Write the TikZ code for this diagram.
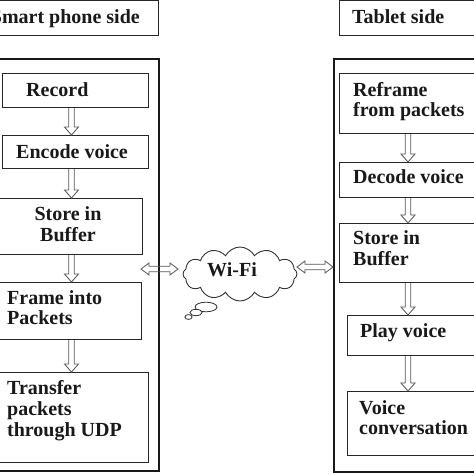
\documentclass[tikz,border=0pt]{standalone}
\usepackage{fontspec}
\setmainfont{Liberation Serif}
\usetikzlibrary{shapes.symbols,calc}
\tikzset{
  box/.style={draw=black!85, line width=1.1pt, fill=white, inner sep=0pt, anchor=north west},
  frame/.style={draw=black!90, line width=1.6pt, inner sep=0pt, anchor=north west},
  txt/.style={font=\bfseries\fontsize{20}{21}\selectfont, inner sep=0pt, anchor=base west, text=black!90},
  darr/.style={draw=black!65, line width=0.85pt, fill=white,
    to path={let \p1=(\tikztostart), \p2=(\tikztotarget) in
      (\x1-2.7pt,\y1) -- (\x1-2.7pt,\y2+8pt) -- (\x1-7pt,\y2+8pt) -- (\x1,\y2)
      -- (\x1+7pt,\y2+8pt) -- (\x1+2.7pt,\y2+8pt) -- (\x1+2.7pt,\y1)}},
  harr/.style={draw=black!65, line width=0.85pt,
    to path={let \p1=(\tikztostart), \p2=(\tikztotarget) in
      (\x1,\y1) -- (\x1+8pt,\y1+6pt) -- (\x1+8pt,\y1+2.7pt) -- (\x2-8pt,\y1+2.7pt)
      -- (\x2-8pt,\y1+6pt) -- (\x2,\y1) -- (\x2-8pt,\y1-6pt) -- (\x2-8pt,\y1-2.7pt)
      -- (\x1+8pt,\y1-2.7pt) -- (\x1+8pt,\y1-6pt) -- cycle}},
  bubble/.style={draw=black!80, line width=0.8pt, fill=white}
}
\begin{document}
\begin{tikzpicture}[x=1pt,y=-1pt]
\useasboundingbox (0,0) rectangle (474,474);
\clip (0,0) rectangle (474,474);
\fill[white] (0,0) rectangle (474,474);

% headers
\node[box, line width=1.4pt, minimum width=168pt, minimum height=35pt] (lhead) at (-10,0) {};
\node[txt, anchor=base east] (lheadt) at (140,23) {Smart phone side};
\node[box, line width=1.4pt, minimum width=150pt, minimum height=35pt] (rhead) at (339,0) {};
\node[txt] (rheadt) at (352,23) {Tablet side};

% containers
\node[frame, minimum width=168pt, minimum height=412pt] (lframe) at (-10,58) {};
\node[frame, minimum width=160pt, minimum height=413pt] (rframe) at (333,58) {};

% left boxes
\node[box, minimum width=146pt, minimum height=34pt] (rec) at (2,73) {};
\node[txt] (rect) at (26,96) {Record};
\node[box, minimum width=146pt, minimum height=33pt] (enc) at (2,135) {};
\node[txt] (enct) at (16,158) {Encode voice};
\node[box, minimum width=152pt, minimum height=56pt] (sto) at (-10,198) {};
\node[txt, anchor=base] (stot1) at (68,220) {Store in};
\node[txt, anchor=base] (stot2) at (68,241) {Buffer};
\node[box, minimum width=151pt, minimum height=57pt] (frm) at (-10,282) {};
\node[txt] (frmt1) at (7,304) {Frame into};
\node[txt] (frmt2) at (7,324) {Packets};
\node[box, minimum width=158pt, minimum height=90pt] (tra) at (-10,372) {};
\node[txt] (trat1) at (7,394) {Transfer};
\node[txt] (trat2) at (7,415) {packets};
\node[txt] (trat3) at (7,436) {through UDP};

% right boxes
\node[box, minimum width=150pt, minimum height=60pt] (ref) at (339,73) {};
\node[txt] (reft1) at (353,96) {Reframe};
\node[txt] (reft2) at (353,116) {from packets};
\node[box, minimum width=150pt, minimum height=35pt] (dec) at (339,162) {};
\node[txt] (dect) at (353,183) {Decode voice};
\node[box, minimum width=150pt, minimum height=59pt] (rst) at (339,223) {};
\node[txt] (rstt1) at (353,244) {Store in};
\node[txt] (rstt2) at (353,265) {Buffer};
\node[box, minimum width=150pt, minimum height=40pt] (ply) at (347,315) {};
\node[txt] (plyt) at (360,337) {Play voice};
\node[box, minimum width=150pt, minimum height=64pt] (voi) at (347,391) {};
\node[txt] (voit1) at (359,414) {Voice};
\node[txt] (voit2) at (359,434) {conversation};

% vertical arrows
\coordinate (axL) at (71.5,0);
\coordinate (axR) at (408,0);
\draw[darr] (rec.south -| axL) to (enc.north -| axL);
\draw[darr] (enc.south -| axL) to (sto.north -| axL);
\draw[darr] (sto.south -| axL) to (frm.north -| axL);
\draw[darr] (frm.south -| axL) to (tra.north -| axL);
\draw[darr] (ref.south -| axR) to (dec.north -| axR);
\draw[darr] (dec.south -| axR) to (rst.north -| axR);
\draw[darr] (rst.south -| axR) to (ply.north -| axR);
\draw[darr] (ply.south -| axR) to (voi.north -| axR);

% cloud
\node[cloud, draw=black!80, line width=0.9pt, cloud puffs=12, cloud puff arc=125,
      aspect=2.1, minimum width=114pt, minimum height=54pt, inner sep=0pt] (wifi) at (240,274) {};
\node[txt, anchor=base] (wifit) at (232,276) {Wi-Fi};
\draw[bubble] (206,307) ellipse [x radius=11, y radius=4.8];
\draw[bubble] (196,312.5) ellipse [x radius=6, y radius=3.2];
\draw[bubble] (188.5,317) ellipse [x radius=3.6, y radius=2.4];

% horizontal arrows
\coordinate (hl1) at (141,269);
\coordinate (hl2) at (178,269);
\coordinate (hr1) at (297,267);
\draw[harr] (hl1) to (hl2);
\draw[harr] (hr1) to (rframe.west |- hr1);
\end{tikzpicture}
\end{document}
